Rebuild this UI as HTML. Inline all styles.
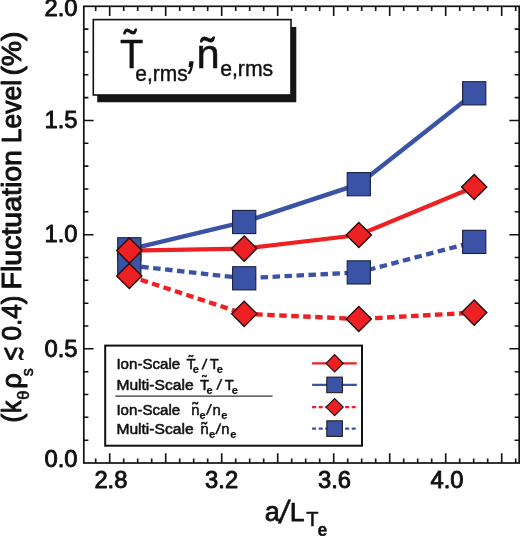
<!DOCTYPE html>
<html lang="en"><head><meta charset="utf-8"><title>Fluctuation Level vs a/LTe</title>
<style>
html,body{margin:0;padding:0;background:#fff;}
body{width:520px;height:536px;overflow:hidden;}
svg{display:block;filter:blur(0.4px);}
text{font-family:"Liberation Sans","DejaVu Sans",sans-serif;fill:#111;stroke:#111;stroke-linejoin:round;}
svg{stroke-width:0.3px;}
.tk{font-size:23px;stroke:#111;stroke-width:0.9px;}
.lg{font-size:15.5px;stroke-width:0.55px;}
.lgs{font-size:14.8px;stroke-width:0.5px;}
.ls{font-size:11px;font-weight:bold;stroke-width:0.25px;}
</style></head><body>
<svg width="520" height="536" viewBox="0 0 520 536">
<rect x="0" y="0" width="520" height="536" fill="#ffffff"/>
<path d="M95.7 463.0v-4.6M95.7 6.3v4.6M109.7 463.0v-9.8M109.7 6.3v9.8M123.7 463.0v-4.6M123.7 6.3v4.6M137.7 463.0v-4.6M137.7 6.3v4.6M151.7 463.0v-4.6M151.7 6.3v4.6M165.7 463.0v-9.8M165.7 6.3v9.8M179.7 463.0v-4.6M179.7 6.3v4.6M193.7 463.0v-4.6M193.7 6.3v4.6M207.7 463.0v-4.6M207.7 6.3v4.6M221.7 463.0v-9.8M221.7 6.3v9.8M235.7 463.0v-4.6M235.7 6.3v4.6M249.7 463.0v-4.6M249.7 6.3v4.6M263.7 463.0v-4.6M263.7 6.3v4.6M277.7 463.0v-9.8M277.7 6.3v9.8M291.7 463.0v-4.6M291.7 6.3v4.6M305.7 463.0v-4.6M305.7 6.3v4.6M319.7 463.0v-4.6M319.7 6.3v4.6M333.7 463.0v-9.8M333.7 6.3v9.8M347.7 463.0v-4.6M347.7 6.3v4.6M361.7 463.0v-4.6M361.7 6.3v4.6M375.7 463.0v-4.6M375.7 6.3v4.6M389.7 463.0v-9.8M389.7 6.3v9.8M403.7 463.0v-4.6M403.7 6.3v4.6M417.7 463.0v-4.6M417.7 6.3v4.6M431.7 463.0v-4.6M431.7 6.3v4.6M445.7 463.0v-9.8M445.7 6.3v9.8M459.7 463.0v-4.6M459.7 6.3v4.6M473.7 463.0v-4.6M473.7 6.3v4.6M487.7 463.0v-4.6M487.7 6.3v4.6M501.7 463.0v-9.8M501.7 6.3v9.8M515.7 463.0v-4.6M515.7 6.3v4.6M83.8 440.2h4.6M519.2 440.2h-4.6M83.8 417.3h4.6M519.2 417.3h-4.6M83.8 394.5h4.6M519.2 394.5h-4.6M83.8 371.7h4.6M519.2 371.7h-4.6M83.8 348.8h9.8M519.2 348.8h-9.8M83.8 326.0h4.6M519.2 326.0h-4.6M83.8 303.2h4.6M519.2 303.2h-4.6M83.8 280.3h4.6M519.2 280.3h-4.6M83.8 257.5h4.6M519.2 257.5h-4.6M83.8 234.7h9.8M519.2 234.7h-9.8M83.8 211.8h4.6M519.2 211.8h-4.6M83.8 189.0h4.6M519.2 189.0h-4.6M83.8 166.1h4.6M519.2 166.1h-4.6M83.8 143.3h4.6M519.2 143.3h-4.6M83.8 120.5h9.8M519.2 120.5h-9.8M83.8 97.6h4.6M519.2 97.6h-4.6M83.8 74.8h4.6M519.2 74.8h-4.6M83.8 52.0h4.6M519.2 52.0h-4.6M83.8 29.1h4.6M519.2 29.1h-4.6" stroke="#111" stroke-width="1.6" fill="none"/>
<rect x="83.8" y="6.3" width="435.4" height="456.7" fill="none" stroke="#111" stroke-width="1.7"/>
<text class="tk" x="77.5" y="15.9" text-anchor="end" textLength="33" lengthAdjust="spacingAndGlyphs">2.0</text>
<text class="tk" x="77.5" y="127.8" text-anchor="end" textLength="33" lengthAdjust="spacingAndGlyphs">1.5</text>
<text class="tk" x="77.5" y="242.1" text-anchor="end" textLength="33" lengthAdjust="spacingAndGlyphs">1.0</text>
<text class="tk" x="77.5" y="356.6" text-anchor="end" textLength="33" lengthAdjust="spacingAndGlyphs">0.5</text>
<text class="tk" x="77.5" y="466.6" text-anchor="end" textLength="33" lengthAdjust="spacingAndGlyphs">0.0</text>
<text class="tk" x="110.9" y="488.0" text-anchor="middle" textLength="33" lengthAdjust="spacingAndGlyphs">2.8</text>
<text class="tk" x="221.6" y="488.0" text-anchor="middle" textLength="33" lengthAdjust="spacingAndGlyphs">3.2</text>
<text class="tk" x="334.5" y="488.0" text-anchor="middle" textLength="33" lengthAdjust="spacingAndGlyphs">3.6</text>
<text class="tk" x="447.0" y="488.0" text-anchor="middle" textLength="33" lengthAdjust="spacingAndGlyphs">4.0</text>
<polyline points="129.3,265.4 244.2,278.3 358.8,272.4 474.2,241.9" fill="none" stroke="#3a53a4" stroke-width="4.3" stroke-dasharray="7.5 4.5"/>
<polyline points="129.3,249.3 244.2,222.0 358.8,184.2 474.2,93.3" fill="none" stroke="#3a53a4" stroke-width="4.4"/>
<polyline points="129.3,276.0 244.2,313.8 358.8,319.0 474.2,312.6" fill="none" stroke="#ed2024" stroke-width="4.4" stroke-dasharray="7.5 4.5"/>
<polyline points="129.3,250.6 244.2,248.6 358.8,235.0 474.2,187.0" fill="none" stroke="#ed2024" stroke-width="4.2"/>
<g fill="#3a53a4" stroke="#1a2042" stroke-width="1.1"><rect x="117.7" y="237.7" width="23.2" height="23.2"/><rect x="232.6" y="210.4" width="23.2" height="23.2"/><rect x="347.2" y="172.6" width="23.2" height="23.2"/><rect x="462.6" y="81.7" width="23.2" height="23.2"/><rect x="117.7" y="253.8" width="23.2" height="23.2"/><rect x="232.6" y="266.7" width="23.2" height="23.2"/><rect x="347.2" y="260.8" width="23.2" height="23.2"/><rect x="462.6" y="230.3" width="23.2" height="23.2"/></g>
<g fill="#ed2024" stroke="#2a0d0f" stroke-width="1.4" stroke-linejoin="miter"><path d="M116.7 276.0L129.3 263.4L141.9 276.0L129.3 288.6Z"/><path d="M231.6 313.8L244.2 301.2L256.8 313.8L244.2 326.4Z"/><path d="M346.2 319.0L358.8 306.4L371.4 319.0L358.8 331.6Z"/><path d="M461.6 312.6L474.2 300.0L486.8 312.6L474.2 325.2Z"/><path d="M116.7 250.6L129.3 238.0L141.9 250.6L129.3 263.2Z"/><path d="M231.6 248.6L244.2 236.0L256.8 248.6L244.2 261.2Z"/><path d="M346.2 235.0L358.8 222.4L371.4 235.0L358.8 247.6Z"/><path d="M461.6 187.0L474.2 174.4L486.8 187.0L474.2 199.6Z"/></g>
<path d="M97.2 95H291V27H296.3V102.2H97.2Z" fill="#161616"/>
<rect x="93.3" y="19.6" width="197.7" height="75.4" fill="#fff" stroke="#111" stroke-width="1.6"/>
<text transform="translate(120 68.1) scale(0.92 1)" x="0" y="0" font-size="41.5px" stroke-width="0.5" id="tT">T</text>
<text x="124.1" y="55.8" font-size="37.5px" stroke-width="0.8" id="tTt">˜</text>
<text x="135.3" y="80.5" font-size="21.2px" stroke-width="0.4" textLength="52.4" lengthAdjust="spacingAndGlyphs" id="tS1">e,rms</text>
<text transform="translate(186.6 67.4) scale(0.82 1)" x="0" y="0" font-size="54px" font-style="italic" stroke-width="0.1" id="tC">,</text>
<text transform="translate(196.4 67.9) scale(1.04 1)" x="0" y="0" font-size="40px" stroke-width="0.5" id="tN">n</text>
<text x="200.7" y="66.4" font-size="41px" stroke-width="0.8" id="tNt">˜</text>
<text x="220.2" y="75.7" font-size="21.2px" stroke-width="0.4" textLength="53" lengthAdjust="spacingAndGlyphs" id="tS2">e,rms</text>
<rect x="105.2" y="345.6" width="256.8" height="100.1" fill="#fff" stroke="#111" stroke-width="2"/>
<path d="M115.3 396.1H272.6" stroke="#333" stroke-width="1.3"/>
<text class="lg" x="116.4" y="369.4" textLength="63.8" lengthAdjust="spacingAndGlyphs">Ion-Scale</text>
<text class="lgs" x="186.5" y="369.4">T</text>
<text class="lgs" x="188.7" y="364.5" style="font-size:13.5px">˜</text>
<text class="ls" x="192.8" y="373.4">e</text>
<text class="lgs" x="202.5" y="369.4" transform="rotate(8 204.5 364.4)">/</text>
<text class="lgs" x="209.8" y="369.4">T</text>
<text class="ls" x="216.8" y="373.4">e</text>
<text class="lg" x="116.4" y="389.5" textLength="77.2" lengthAdjust="spacingAndGlyphs">Multi-Scale</text>
<text class="lgs" x="200.0" y="389.5">T</text>
<text class="lgs" x="202.2" y="384.6" style="font-size:13.5px">˜</text>
<text class="ls" x="206.5" y="393.5">e</text>
<text class="lgs" x="217.2" y="389.5" transform="rotate(8 219.2 384.5)">/</text>
<text class="lgs" x="224.8" y="389.5">T</text>
<text class="ls" x="231.8" y="393.5">e</text>
<text class="lg" x="116.4" y="414.7" textLength="63.8" lengthAdjust="spacingAndGlyphs">Ion-Scale</text>
<text class="lgs" x="191.2" y="414.7">n</text>
<text class="lgs" x="192.4" y="414.3" style="font-size:17px">˜</text>
<text class="ls" x="199.6" y="418.5">e</text>
<text class="lgs" x="207.0" y="414.7" transform="rotate(8 209.0 409.7)">/</text>
<text class="lgs" x="212.4" y="414.7">n</text>
<text class="ls" x="221.3" y="418.5">e</text>
<text class="lg" x="116.4" y="434.0" textLength="77.2" lengthAdjust="spacingAndGlyphs">Multi-Scale</text>
<text class="lgs" x="200.4" y="434.0">n</text>
<text class="lgs" x="201.6" y="433.6" style="font-size:17px">˜</text>
<text class="ls" x="208.9" y="437.8">e</text>
<text class="lgs" x="216.1" y="434.0" transform="rotate(8 218.1 429.0)">/</text>
<text class="lgs" x="221.2" y="434.0">n</text>
<text class="ls" x="230.3" y="437.8">e</text>
<path d="M312.1 363.3H356.8" stroke="#ed2024" stroke-width="2.3"/>
<path d="M312.1 384.9H356.8" stroke="#3a53a4" stroke-width="2.3"/>
<path d="M312.1 407.1H356.8" stroke="#ed2024" stroke-width="2.3" stroke-dasharray="4 2.6"/>
<path d="M312.1 428.6H356.8" stroke="#3a53a4" stroke-width="2.3" stroke-dasharray="4 2.6"/>
<g fill="#ed2024" stroke="#1a1416" stroke-width="1.2"><path d="M326.0 363.3L334.6 354.7L343.2 363.3L334.6 371.9Z"/><path d="M326.0 407.1L334.6 398.5L343.2 407.1L334.6 415.7Z"/></g>
<g fill="#3a53a4" stroke="#1a1416" stroke-width="1"><rect x="326.8" y="377.1" width="15.6" height="15.6"/><rect x="326.8" y="420.8" width="15.6" height="15.6"/></g>
<g stroke-width="0.75">
<text id="xl" x="264.8" y="521.2" font-size="27px">a</text>
<text transform="translate(278.2 523) skewX(-9)" x="0" y="0" font-size="32px" stroke-width="0.5">/</text>
<text x="289.8" y="521.2" font-size="26.6px">L</text>
<text id="xlT" x="306.3" y="525.7" font-size="20px" stroke-width="0.55">T</text>
<text id="xle" x="317.6" y="536.4" font-size="17.5px" font-weight="bold" stroke-width="0.3">e</text>
</g>
<g transform="translate(21.2 421) rotate(-90)" font-size="27.4px" stroke-width="1.0">
<text x="-1.7" y="0">(</text>
<text x="7.9" y="0" textLength="12.4" lengthAdjust="spacingAndGlyphs">k</text>
<text x="21.3" y="0" font-size="16.5px" dy="8.0" stroke-width="0.6">θ</text>
<text x="32.2" y="0">ρ</text>
<text x="44.7" y="0" font-size="16px" dy="11.5" stroke-width="0.6">s</text>
<text x="80.4" y="0" textLength="45.2" lengthAdjust="spacingAndGlyphs">0.4)</text>
<text x="131.6" y="0" textLength="139.3" lengthAdjust="spacingAndGlyphs">Fluctuation</text>
<text x="277.8" y="0" textLength="63.3" lengthAdjust="spacingAndGlyphs">Level</text>
<text x="345.4" y="0" textLength="44.1" lengthAdjust="spacingAndGlyphs">(%)</text>
<text transform="translate(59 0.4) scale(0.62 1)" x="0" y="0" font-size="31.3px" font-family="DejaVu Sans, sans-serif" stroke-width="0.5">≲</text>
</g>
</svg></body></html>
